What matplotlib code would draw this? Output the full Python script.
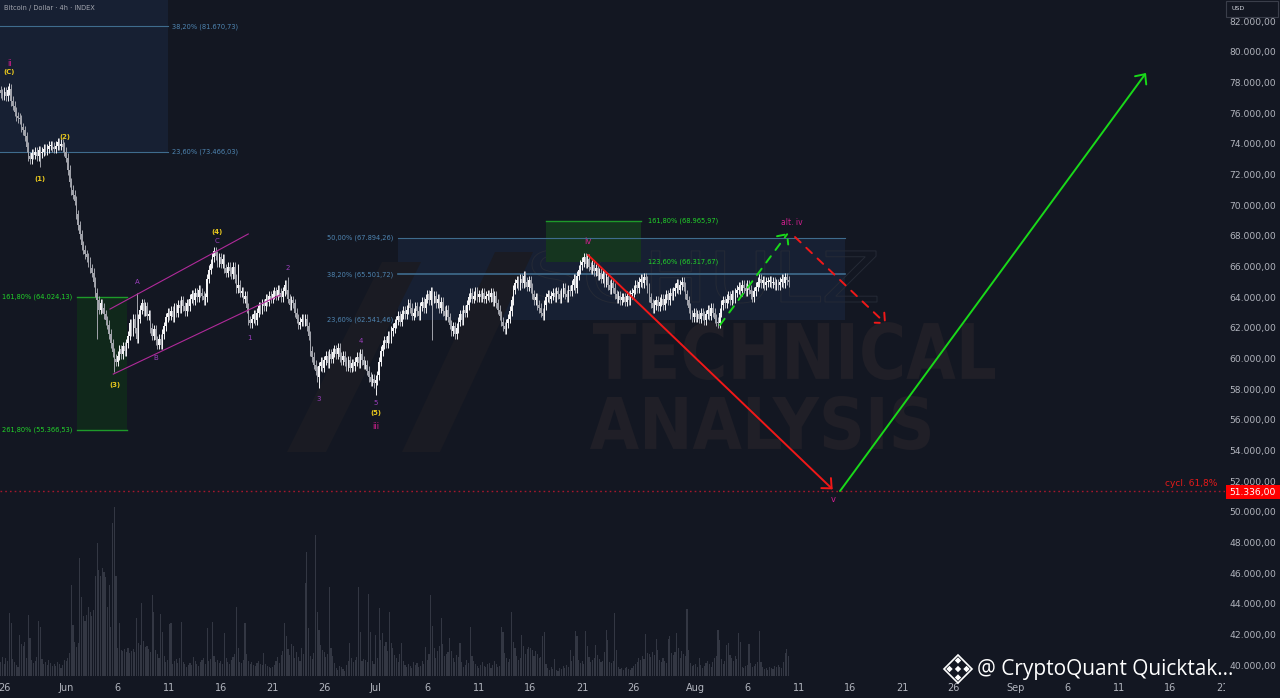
import numpy as np
import matplotlib
matplotlib.use("Agg")
import matplotlib.pyplot as plt
from matplotlib.patches import Rectangle, Polygon, FancyArrowPatch, PathPatch
from matplotlib.textpath import TextPath
from matplotlib.font_manager import FontProperties
from matplotlib.transforms import Affine2D

plt.rcParams["font.family"] = ["DejaVu Sans"]

# ---------------------------------------------------------------- data
# BTC 4h closes (thousand USD); bar 0 = 25 May 12:00, day 0 = 26 May 00:00
first_open = 77.6
closes = [
    77.5, 77.3, 77.2,
    77.4, 77.1, 77.5, 77.6, 76.8, 76.5,
    76.1, 75.8, 75.7, 75.6, 75.1, 74.9,
    74.5, 73.8, 73.2, 73.0, 73.4, 73.3,
    73.5, 73.2, 73.6, 73.4, 73.5, 73.7,
    73.6, 73.7, 73.9, 73.9, 73.8, 73.7,
    73.9, 74.1, 73.9, 74.0, 73.8, 73.5,
    73.1, 72.3, 71.5, 71.0, 70.7, 70.3,
    69.4, 68.7, 68.1, 67.4, 67.1, 66.8,
    66.6, 66.3, 65.9, 65.6, 65.0, 64.3,
    63.8, 63.2, 63.6, 63.3, 62.9, 62.5,
    62.2, 61.6, 61.0, 60.4, 60.0, 59.8,
    60.2, 60.6, 60.3, 60.8, 60.5, 61.0,
    61.5, 62.3, 61.8, 62.6, 62.0, 61.3,
    62.6, 63.2, 63.6, 63.1, 63.4, 62.8,
    62.9, 62.0, 61.5, 61.9, 61.2, 60.9,
    61.3, 60.9, 61.6, 62.1, 62.7, 63.0,
    62.8, 63.1, 62.7, 63.3, 63.0, 63.5,
    63.3, 63.8, 63.4, 63.1, 63.6, 63.4,
    63.9, 64.2, 63.8, 64.3, 64.0, 64.5,
    64.3, 64.1, 63.8, 64.0, 65.2, 65.8,
    66.2, 66.6, 67.0, 66.7, 66.3, 66.6,
    66.2, 66.5, 65.9, 65.6, 66.0, 65.7,
    65.5, 66.0, 65.2, 64.6, 64.8, 64.3,
    64.4, 63.9, 64.1, 63.3, 62.5, 62.3,
    62.6, 62.9, 62.5, 63.0, 63.4, 63.2,
    63.6, 63.4, 63.9, 63.7, 64.1, 63.9,
    64.2, 64.4, 64.1, 64.5, 64.3, 64.0,
    64.4, 64.8, 64.5, 63.9, 63.5, 63.8,
    63.6, 63.0, 62.6, 62.2, 62.4, 62.6,
    62.4, 62.6, 62.1, 61.5, 60.5, 60.1,
    59.6, 59.2, 58.8, 59.5, 59.8, 59.4,
    59.9, 60.2, 59.7, 60.3, 60.0, 60.4,
    60.6, 60.3, 60.7, 60.1, 59.9, 60.2,
    59.8, 59.5, 59.9, 59.4, 59.7, 59.5,
    59.8, 60.1, 59.7, 60.3, 59.9, 59.6,
    59.6, 59.2, 58.8, 58.5, 58.7, 58.4,
    58.6, 58.9, 59.8, 60.5, 60.9, 61.2,
    61.0, 61.5, 61.3, 61.8, 62.0, 62.3,
    62.5, 62.8, 62.4, 62.9, 63.1, 62.9,
    63.2, 63.6, 63.3, 62.8, 63.0, 63.4,
    63.1, 62.8, 63.4, 63.7, 63.3, 63.9,
    64.2, 63.8, 64.4, 63.9, 64.1, 63.6,
    63.9, 63.3, 63.7, 63.1, 62.8, 63.2,
    62.7, 62.2, 61.8, 62.1, 61.6, 62.0,
    62.4, 62.9, 62.5, 63.2, 63.0, 63.5,
    64.0, 64.3, 63.9, 64.1, 64.4, 64.0,
    64.2, 64.0, 64.3, 63.9, 64.1, 64.2,
    64.0, 64.3, 63.7, 64.1, 63.6, 63.2,
    62.8, 62.4, 62.1, 61.9, 62.3, 62.6,
    63.1, 63.8, 64.5, 64.9, 65.1, 64.8,
    65.2, 64.9, 65.4, 65.0, 64.7, 65.1,
    64.6, 64.2, 63.8, 64.0, 63.5, 63.3,
    63.0, 62.8, 63.5, 64.0, 64.2, 63.9,
    64.1, 64.3, 64.0, 64.4, 64.2, 63.9,
    64.3, 64.6, 64.2, 64.0, 64.5, 64.4,
    64.8, 65.2, 64.6, 65.4, 65.8, 66.1,
    66.3, 66.6, 66.2, 66.5, 66.0, 65.8,
    66.1, 65.7, 65.9, 65.4, 65.6, 65.2,
    65.5, 65.0, 65.3, 64.8, 64.5, 64.9,
    64.6, 64.2, 63.9, 64.1, 63.8, 64.0,
    64.0, 63.7, 64.1, 63.8, 64.2, 64.3,
    64.5, 64.8, 64.6, 65.0, 65.2, 64.9,
    65.3, 65.1, 64.6, 64.0, 63.6, 63.3,
    63.5, 63.8, 63.4, 63.7, 63.9, 63.5,
    63.9, 64.2, 63.8, 64.3, 64.1, 64.4,
    64.6, 64.9, 64.5, 64.8, 65.0, 64.7,
    64.2, 63.8, 63.3, 62.9, 62.7, 63.0,
    62.7, 62.9, 62.6, 63.0, 62.8, 62.5,
    62.9, 63.2, 62.8, 63.3, 63.0, 62.6,
    62.4, 62.3, 63.0, 63.5, 63.8, 63.6,
    63.9, 64.1, 63.8, 64.2, 63.9, 64.3,
    64.5, 64.7, 64.4, 64.8, 64.6, 64.4,
    64.8, 64.5, 64.2, 64.0, 64.4, 64.7,
    65.0, 65.2, 64.9, 65.1, 64.8, 65.0,
    65.0, 65.1, 64.9, 65.0, 64.8, 64.9,
    64.8, 65.0, 65.2, 64.9, 65.3, 65.1,
    65.0,
]
# notable wicks (bar index -> extreme price)
wick_high_bar = [6, 36, 80, 126, 139, 168, 306, 342, 376, 398]
wick_high_val = [78.0, 74.2, 64.3, 67.2, 66.2, 65.3, 65.6, 66.8, 65.6, 65.3]
wick_low_bar = [24, 57, 67, 95, 186, 219, 252, 317, 419]
wick_low_val = [72.5, 61.3, 59.1, 60.6, 58.1, 57.6, 61.2, 62.6, 62.1]

# 4h volume (relative units)
volume = [
    16, 14, 19,
    12, 18, 15, 63, 53, 17,
    14, 11, 9, 41, 32, 30,
    34, 18, 61, 38, 16, 13,
    15, 19, 55, 49, 17, 12,
    14, 11, 16, 13, 10, 12,
    10, 14, 12, 8, 11, 16,
    15, 18, 23, 91, 51, 34,
    29, 33, 118, 79, 60, 55,
    61, 69, 64, 60, 66, 100,
    133, 106, 100, 108, 104, 99,
    69, 91, 49, 153, 169, 100,
    28, 53, 26, 25, 27, 24,
    28, 23, 25, 27, 24, 58,
    33, 31, 73, 35, 29, 30,
    27, 24, 81, 64, 26, 22,
    18, 62, 44, 20, 14, 16,
    52, 53, 12, 15, 17, 13,
    18, 54, 14, 12, 9, 11,
    13, 11, 19, 15, 12, 10,
    14, 16, 18, 12, 48, 15,
    17, 54, 20, 14, 16, 13,
    15, 12, 43, 18, 14, 12,
    16, 19, 22, 69, 28, 14,
    13, 16, 53, 22, 15, 12,
    14, 11, 10, 13, 15, 12,
    11, 23, 12, 10, 9, 8,
    9, 11, 15, 19, 13, 21,
    25, 53, 40, 27, 21, 32,
    30, 18, 24, 19, 15, 28,
    22, 93, 124, 48, 20, 17,
    23, 141, 64, 46, 31, 26,
    24, 19, 22, 89, 28, 20,
    13, 8, 6, 10, 9, 7,
    5, 11, 15, 33, 18, 14,
    16, 19, 89, 44, 15, 17,
    16, 14, 82, 44, 15, 12,
    41, 18, 68, 36, 43, 30,
    34, 25, 64, 33, 28, 21,
    18, 14, 22, 33, 15, 11,
    9, 12, 10, 8, 14, 11,
    13, 9, 10, 15, 12, 29,
    16, 22, 81, 50, 28, 18,
    25, 30, 58, 32, 20, 22,
    24, 38, 25, 18, 14, 21,
    19, 33, 14, 9, 11, 16,
    13, 49, 20, 15, 12, 10,
    8, 11, 14, 10, 9, 12,
    13, 8, 11, 15, 12, 9,
    10, 49, 44, 23, 18, 14,
    17, 64, 34, 28, 20, 16,
    18, 41, 30, 22, 27, 29,
    28, 26, 20, 25, 22, 18,
    19, 40, 44, 12, 8, 6,
    9, 7, 17, 6, 5, 8,
    7, 10, 8, 11, 9, 26,
    15, 20, 45, 40, 16, 13,
    15, 12, 45, 30, 19, 14,
    16, 18, 31, 21, 17, 14,
    15, 24, 46, 36, 14, 13,
    15, 63, 26, 9, 7, 8,
    6, 8, 9, 7, 6, 8,
    10, 12, 14, 18, 16, 20,
    17, 42, 23, 22, 19, 24,
    21, 37, 26, 16, 14, 18,
    15, 13, 37, 40, 23, 21,
    24, 43, 28, 18, 25, 22,
    20, 67, 26, 13, 10, 11,
    12, 9, 18, 11, 8, 10,
    13, 15, 12, 9, 14, 18,
    20, 46, 36, 17, 12, 15,
    31, 33, 21, 18, 15, 20,
    17, 43, 34, 9, 8, 10,
    11, 32, 13, 9, 10, 12,
    14, 45, 14, 9, 7, 8,
    6, 9, 8, 7, 10, 9,
    11, 9, 8, 14, 23, 27,
    20,
]

# time axis (days after 26 May)
tick_days = [0, 6, 11, 16, 21, 26, 31, 36, 41, 46, 51, 56, 61, 67, 72, 77, 82, 87,
             92, 98, 103, 108, 113, 118]
tick_labels = ["26", "Jun", "6", "11", "16", "21", "26", "Jul", "6", "11", "16", "21",
               "26", "Aug", "6", "11", "16", "21", "26", "Sep", "6", "11", "16", "21"]
price_ticks = [40, 42, 44, 46, 48, 50, 52, 54, 56, 58, 60, 62, 64, 66, 68, 70, 72, 74,
               76, 78, 80, 82]

# Fibonacci tools (USD)
fib_top_ratio = ["38,20%", "23,60%"]
fib_top_level = [81670.73, 73466.03]
fib_mid_ratio = ["50,00%", "38,20%", "23,60%"]
fib_mid_level = [67894.26, 65501.72, 62541.46]
ext_left_ratio = ["161,80%", "261,80%"]
ext_left_level = [64024.13, 55366.53]
ext_right_ratio = ["161,80%", "123,60%"]
ext_right_level = [68965.97, 66317.67]
cycle_level = 51336.00

# Elliott wave counts: (label, day, price k)
minor_counts = [("(C)", 0.49, 78.70), ("(1)", 3.47, 71.72), ("(2)", 5.89, 74.46),
                ("(3)", 10.74, 58.28), ("(4)", 20.62, 68.26), ("(5)", 36.03, 56.45)]
minute_counts = [("A", 12.87, 65.00), ("B", 14.71, 60.04), ("C", 20.62, 67.67),
                 ("1", 23.72, 61.34), ("2", 27.50, 65.91), ("3", 30.50, 57.36),
                 ("4", 34.57, 61.15), ("5", 36.03, 57.10)]
intermediate_counts = [("ii", 0.56, 79.28), ("iii", 36.03, 55.54), ("iv", 56.57, 67.67),
                       ("alt. iv", 76.34, 68.85), ("v", 80.31, 50.78)]

# projected paths (day, price k)
path_v_down = [(56.57, 66.76), (80.28, 51.47)]
path_next_up = [(80.99, 51.36), (110.64, 78.63)]
path_alt_iv_up = [(69.36, 62.19), (75.95, 68.19)]
path_alt_iv_down = [(76.63, 67.93), (85.45, 62.26)]
channel_upper = [(10.25, 63.23), (23.65, 68.13)]
channel_lower = [(10.57, 58.99), (26.73, 64.15)]

# ---------------------------------------------------------------- style
BG = "#131722"
TXT = "#b2b5be"
FIB_BLUE = "#4f86b3"
FIB_LINE = "#3f6c8e"
FIB_FILL = "#172033"
GREEN_TXT = "#22d42a"
GREEN_LINE = "#1e9a2a"
YELLOW = "#e8c81e"
PURPLE = "#9d3fbf"
MAGENTA = "#d21f8f"
RED = "#f01818"
LIME = "#19d919"


def eu(v):
    s = f"{v:,.2f}"
    return s.replace(",", "#").replace(".", ",").replace("#", ".")


W, H = 1280, 698
PLOT_R, PLOT_B = 1225, 677          # pixel extent of the price pane
X0, PX_DAY = 4.2, 10.32             # day 0 position and day width in pixels
Y80, PX_K = 52, 15.33               # 80k position and pixels per 1k

xlim = ((0 - X0) / PX_DAY, (PLOT_R - X0) / PX_DAY)
ylim = (80 - (PLOT_B - Y80) / PX_K, 80 + Y80 / PX_K)
rect = [0, (H - PLOT_B) / H, PLOT_R / W, PLOT_B / H]

fig = plt.figure(figsize=(W / 100, H / 100), dpi=100)
fig.patch.set_facecolor(BG)

# volume pane (bottom layer)
axv = fig.add_axes(rect, zorder=0)
axv.set_facecolor(BG)
axv.set_xlim(xlim)
axv.set_ylim(0, PLOT_B)
axv.axis("off")
axv.patch.set_visible(True)

n = len(closes)
t = -0.5 + np.arange(n) / 6.0
axv.bar(t, volume, width=0.11, bottom=1, color="#333743", linewidth=0)

# pixel-space helper axes (invisible), used for the watermark placement
axw = fig.add_axes([0, 0, 1, 1], zorder=1)
axw.set_xlim(0, W)
axw.set_ylim(H, 0)
axw.axis("off")
axw.patch.set_alpha(0)

# price pane
ax = fig.add_axes(rect, zorder=2)
ax.patch.set_alpha(0)
ax.set_xlim(xlim)
ax.set_ylim(ylim)
for sp in ax.spines.values():
    sp.set_visible(False)
ax.set_xticks([])
ax.yaxis.tick_right()
ax.set_yticks(price_ticks)
ax.set_yticklabels([eu(v * 1000) for v in price_ticks], fontsize=6.6, color=TXT)
ax.tick_params(axis="y", length=0, pad=3)


def fit_text(s, box, family="DejaVu Sans", weight="bold", **kw):
    x0, y0, x1, y1 = box
    tp = TextPath((0, 0), s, size=100, prop=FontProperties(family=family, weight=weight))
    bb = tp.get_extents()
    tr = (Affine2D().translate(-bb.x0, -bb.y0)
          .scale((x1 - x0) / bb.width, -(y1 - y0) / bb.height)
          .translate(x0, y1))
    ax.add_patch(PathPatch(tr.transform_path(tp), transform=axw.transData, **kw))


# watermark
WM = "#201f27"
for poly in ([(287, 452), (326, 452), (421, 262), (382, 262)],
             [(402, 452), (440, 452), (533, 252), (495, 252)]):
    ax.add_patch(Polygon(poly, closed=True, transform=axw.transData,
                         facecolor="#1a1b23", edgecolor="none", zorder=1.4))
fit_text("TECHNICAL", (593, 322, 995, 380), facecolor=WM, edgecolor="none", zorder=1.5)
fit_text("ANALYSIS", (590, 396, 930, 450), facecolor=WM, edgecolor="none", zorder=1.5)
fit_text("SCHULZ", (532, 250, 877, 303), weight="normal", facecolor="none",
         edgecolor="#252a36", linewidth=0.7, zorder=1.5)

# fib retracement (upper left)
top_x = (xlim[0], 15.87)
ax.fill_between(top_x, fib_top_level[1] / 1000, ylim[1], color=FIB_FILL, zorder=1, lw=0)
for r, lv in zip(fib_top_ratio, fib_top_level):
    ax.plot(top_x, [lv / 1000] * 2, color=FIB_LINE, lw=0.8, zorder=2)
    ax.text(16.26, lv / 1000, f"{r} ({eu(lv)})", color=FIB_BLUE, fontsize=4.8,
            ha="left", va="center", zorder=5)

# fib retracement (middle)
mid_x = (38.16, 81.47)
ax.fill_between(mid_x, fib_mid_level[2] / 1000, fib_mid_level[0] / 1000,
                color=FIB_FILL, zorder=1, lw=0)
for k, (r, lv) in enumerate(zip(fib_mid_ratio, fib_mid_level)):
    if k < 2:
        ax.plot(mid_x, [lv / 1000] * 2, color=FIB_LINE, lw=0.8 if k == 0 else 1.2, zorder=2)
    ax.text(37.67, lv / 1000, f"{r} ({eu(lv)})", color=FIB_BLUE, fontsize=4.8,
            ha="right", va="center", zorder=5)

# fib extension boxes
lx = (7.06, 11.90)
ax.fill_between(lx, ext_left_level[1] / 1000, ext_left_level[0] / 1000,
                color="#10281b", zorder=1, lw=0)
for r, lv in zip(ext_left_ratio, ext_left_level):
    ax.plot(lx, [lv / 1000] * 2, color=GREEN_LINE, lw=1.0, zorder=2)
    ax.text(6.58, lv / 1000, f"{r} ({eu(lv)})", color=GREEN_TXT, fontsize=4.8,
            ha="right", va="center", zorder=5)

rx = (52.50, 61.70)
ax.fill_between(rx, ext_right_level[1] / 1000, ext_right_level[0] / 1000,
                color="#15351f", zorder=1.6, lw=0)
ax.plot(rx, [ext_right_level[0] / 1000] * 2, color=GREEN_LINE, lw=1.0, zorder=2)
for r, lv in zip(ext_right_ratio, ext_right_level):
    ax.text(62.38, lv / 1000, f"{r} ({eu(lv)})", color=GREEN_TXT, fontsize=4.8,
            ha="left", va="center", zorder=5)

# cycle level
ax.axhline(cycle_level / 1000, color="#a3172d", lw=1.0, ls=(0, (1.2, 2.2)), zorder=2)
ax.text(117.6, cycle_level / 1000 + 0.22, "cycl. 61,8%", color="#e41a1a", fontsize=6.5,
        ha="right", va="bottom", zorder=5)

# candles
c = np.array(closes)
o = np.r_[first_open, c[:-1]]
hi = np.maximum(o, c) + 0.3
lo = np.minimum(o, c) - 0.3
for b, v in zip(wick_high_bar, wick_high_val):
    hi[b] = max(hi[b], v)
for b, v in zip(wick_low_bar, wick_low_val):
    lo[b] = min(lo[b], v)
up = c >= o
cols = np.where(up, "#f4f4f6", "#a2a4ac")
ax.vlines(t, lo, hi, colors=cols, lw=0.7, zorder=3)
ax.bar(t, np.maximum(np.abs(c - o), 0.06), bottom=np.minimum(o, c), width=0.135,
       color=cols, linewidth=0, zorder=3)

# channel
for seg in (channel_upper, channel_lower):
    (xa, ya), (xb, yb) = seg
    ax.plot([xa, xb], [ya, yb], color="#b02a9a", lw=0.8, zorder=4)


def arrow(seg, color, ls="-", lw=1.4):
    ax.add_patch(FancyArrowPatch(seg[0], seg[1], arrowstyle="->,head_length=0.55,head_width=0.5",
                                 mutation_scale=10, color=color, lw=lw, linestyle=ls,
                                 shrinkA=0, shrinkB=0, zorder=6))


arrow(path_v_down, RED)
arrow(path_next_up, LIME)
arrow(path_alt_iv_up, LIME, ls=(0, (4, 4)))
arrow(path_alt_iv_down, RED, ls=(0, (4, 4)))

# wave labels
for s, d, p in minor_counts:
    ax.text(d, p, s, color=YELLOW, fontsize=5, fontweight="bold", ha="center", va="center", zorder=7)
for s, d, p in minute_counts:
    ax.text(d, p, s, color=PURPLE, fontsize=5, ha="center", va="center", zorder=7)
for s, d, p in intermediate_counts:
    ax.text(d, p, s, color=MAGENTA, fontsize=6 if len(s) < 4 else 5.5, ha="center",
            va="center", zorder=7)

# time labels
axx = fig.add_axes([0, 0, PLOT_R / W, (H - PLOT_B) / H], zorder=2)
axx.set_xlim(xlim)
axx.set_ylim(0, 1)
axx.axis("off")
for d, s in zip(tick_days, tick_labels):
    axx.text(d, 0.48, s, color=TXT, fontsize=7, ha="center", va="center", clip_on=True)

# overlays
axo = fig.add_axes([0, 0, 1, 1], zorder=5)
axo.set_xlim(0, W)
axo.set_ylim(H, 0)
axo.axis("off")
axo.patch.set_alpha(0)
axo.text(4, 8, "Bitcoin / Dollar · 4h · INDEX", color="#a3a6af", fontsize=4.8,
         ha="left", va="center")
axo.add_patch(Rectangle((1226, 1), 52, 16, facecolor=BG, edgecolor="#3a3e4a", lw=0.8))
axo.text(1232, 9, "USD", color="#d1d4dc", fontsize=4.5, ha="left", va="center")
axo.add_patch(Rectangle((1226, 485), 54, 14, facecolor="#ff0000", edgecolor="none"))
axo.text(1229, 492, eu(cycle_level), color="white", fontsize=6.6,
         ha="left", va="center")

# CryptoQuant mark
cx, cy = 958, 669
for dx, dy in [(0, -8.5), (0, 8.5), (-8.5, 0), (8.5, 0), (0, 0)]:
    s = 3.2
    axo.add_patch(Polygon([(cx + dx, cy + dy - s), (cx + dx + s, cy + dy),
                           (cx + dx, cy + dy + s), (cx + dx - s, cy + dy)],
                          closed=True, facecolor="white", edgecolor="none"))
axo.add_patch(Polygon([(cx, cy - 14), (cx + 14, cy), (cx, cy + 14), (cx - 14, cy)],
                      closed=True, facecolor="none", edgecolor="white", lw=1.2))
axo.text(977, 670, "@ CryptoQuant Quicktak...", color="white", fontsize=15,
         family="Open Sans", ha="left", va="center")

fig.savefig("out.png", dpi=100, facecolor=BG)
